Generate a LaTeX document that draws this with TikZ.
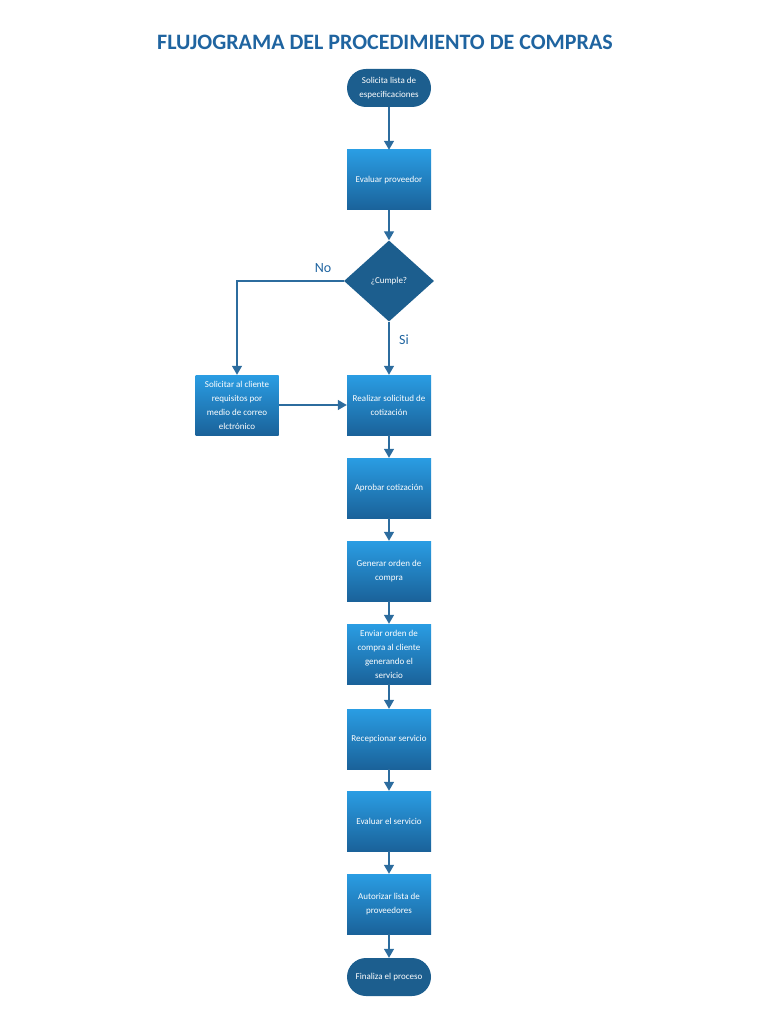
\documentclass[tikz,border=0pt]{standalone}
\usepackage{fontspec}
\setmainfont{Carlito}
\usepackage{xcolor}
\usepackage{tikz}
\usetikzlibrary{shapes,arrows,arrows.meta,positioning,calc}

\definecolor{titleblue}{HTML}{1F64A0}
\definecolor{darkblue}{HTML}{1C5E8E}
\definecolor{boxtop}{HTML}{2A9DE3}
\definecolor{boxbot}{HTML}{1A629A}
\definecolor{linecol}{HTML}{2C6C9E}

\begin{document}
\begin{tikzpicture}[
    x=1pt, y=-1pt,
    proc/.style={rectangle, top color=boxtop, bottom color=boxbot, draw=none, minimum width=84pt, minimum height=60pt, align=center, text=white, font=\fontsize{9}{14}\selectfont},
    term/.style={rectangle, rounded corners=19pt, fill=darkblue, minimum width=84pt, minimum height=38pt, align=center, text=white, font=\fontsize{9}{14}\selectfont},
    decision/.style={diamond, fill=darkblue, minimum width=90pt, minimum height=81pt, inner sep=0pt, text=white, font=\fontsize{9}{14}\selectfont},
    arrow/.style={-{Triangle[length=9pt,width=10pt]}, line width=1.3pt, draw=linecol},
    lbl/.style={text=titleblue, font=\fontsize{14}{16}\selectfont}
]
\useasboundingbox (0,0) rectangle (768,1024);

% Title
\node[text=titleblue, font=\fontsize{22}{26}\selectfont\bfseries] (title) at (385,42) {FLUJOGRAMA DEL PROCEDIMIENTO DE COMPRAS};

% Start
\node[term] (start) at (389,88) {Solicita lista de\\especificaciones};
\node[proc] (evprov) at (389,180) {Evaluar proveedor};

% Decision
\node[decision] (cumple) at (389,281) {¿Cumple?};
\node[lbl] (no) at (323,268) {No};
\node[lbl] (si) at (404,340) {Si};

% Side branch
\node[proc, minimum width=83pt] (solic) at (237,405) {Solicitar al cliente\\requisitos por\\medio de correo\\elctrónico};

% Main column
\node[proc] (cotiz) at (389,405) {Realizar solicitud de\\cotización};
\node[proc] (aprob) at (389,488) {Aprobar cotización};
\node[proc] (orden) at (389,571) {Generar orden de\\compra};
\node[proc] (envia) at (389,654) {Enviar orden de\\compra al cliente\\generando el\\servicio};
\node[proc] (recep) at (389,739) {Recepcionar servicio};
\node[proc] (evserv) at (389,821) {Evaluar el servicio};
\node[proc] (autor) at (389,904) {Autorizar lista de\\proveedores};

% End
\node[term] (fin) at (389,977) {Finaliza el proceso};

% Arrows
\draw[arrow] (start) -- (evprov);
\draw[arrow] (evprov) -- (cumple);
\draw[arrow] (cumple.west) -| (solic.north);
\draw[arrow] (cumple) -- (cotiz);
\draw[arrow] (solic) -- (cotiz);
\draw[arrow] (cotiz) -- (aprob);
\draw[arrow] (aprob) -- (orden);
\draw[arrow] (orden) -- (envia);
\draw[arrow] (envia) -- (recep);
\draw[arrow] (recep) -- (evserv);
\draw[arrow] (evserv) -- (autor);
\draw[arrow] (autor) -- (fin);

\end{tikzpicture}
\end{document}
